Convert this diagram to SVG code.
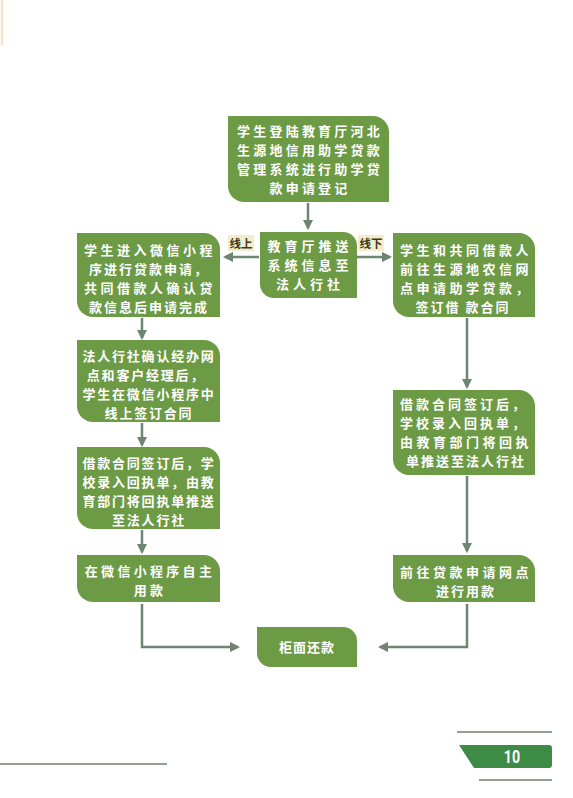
<svg xmlns="http://www.w3.org/2000/svg" width="573" height="798" viewBox="0 0 573 798">
<defs>
<linearGradient id="topg" x1="0" y1="0" x2="1" y2="0">
<stop offset="0" stop-color="#f2e0b4"/>
<stop offset="0.5" stop-color="#c4c596"/>
<stop offset="1" stop-color="#4d7d48"/>
</linearGradient>
<marker id="ah" viewBox="0 0 10 10" refX="8" refY="5" markerWidth="4.2" markerHeight="4.2" orient="auto" markerUnits="strokeWidth">
<path d="M0,0 L10,5 L0,10 z" fill="#6e8571"/>
</marker>
</defs>
<style>
.box{fill:#6c9a45}
.t{fill:#ffffff;font-family:"Noto Sans CJK SC","Noto Sans",sans-serif;font-weight:bold;font-size:13px;text-anchor:middle}
.c{fill:none;stroke:#6e8571;stroke-width:2.5}
.lbl{fill:#f4edcc}
.lt{fill:#3b3a20;font-family:"Noto Sans CJK SC","Noto Sans",sans-serif;font-weight:bold;font-size:11.5px;text-anchor:middle}
.rule{stroke:#6f7f72;stroke-width:1.5}
</style>
<rect width="573" height="798" fill="#ffffff"/>
<line x1="2" y1="0" x2="2" y2="45" stroke="#f3e6c8" stroke-width="2.5"/>
<line x1="78" y1="51" x2="503" y2="51" stroke="url(#topg)" stroke-width="3.5" stroke-linecap="round"/>

<g id="connectors">
<line class="c" x1="308" y1="203" x2="308" y2="228" marker-end="url(#ah)"/>
<line class="c" x1="259" y1="257" x2="225" y2="257" marker-end="url(#ah)"/>
<line class="c" x1="357" y1="257" x2="390" y2="257" marker-end="url(#ah)"/>
<line class="c" x1="142" y1="318" x2="142" y2="338" marker-end="url(#ah)"/>
<line class="c" x1="142" y1="423" x2="142" y2="445" marker-end="url(#ah)"/>
<line class="c" x1="142" y1="530" x2="142" y2="552" marker-end="url(#ah)"/>
<line class="c" x1="467" y1="318" x2="467" y2="387" marker-end="url(#ah)"/>
<line class="c" x1="467" y1="476" x2="467" y2="551" marker-end="url(#ah)"/>
<polyline class="c" points="142,604 142,647 238,647" marker-end="url(#ah)"/>
<polyline class="c" points="467,604 467,647 380,647" marker-end="url(#ah)"/>
<g id="label-online"><rect class="lbl" x="228" y="235" width="26" height="16"/><text class="lt" x="241" y="247.5">线上</text></g>
<g id="label-offline"><rect class="lbl" x="358" y="235" width="26" height="16"/><text class="lt" x="371" y="247.5">线下</text></g>
</g>

<g id="n-top">
<path class="box" d="M228,116 H373 A16,16 0 0 1 389,132 V202 H244 A16,16 0 0 1 228,186 Z"/>
<text class="t" letter-spacing="3.2"><tspan x="310" y="136">学生登陆教育厅河北</tspan><tspan x="310" y="155">生源地信用助学贷款</tspan><tspan x="310" y="174">管理系统进行助学贷</tspan><tspan x="310" y="193">款申请登记</tspan></text>
</g>

<g id="n-push">
<path class="box" d="M260,232 H343 A14,14 0 0 1 357,246 V298 H274 A14,14 0 0 1 260,284 Z"/>
<text class="t" letter-spacing="4"><tspan x="310" y="251">教育厅推送</tspan><tspan x="310" y="270">系统信息至</tspan><tspan x="310" y="289">法人行社</tspan></text>
</g>

<g id="n-l1">
<path class="box" d="M77,233 H204 A16,16 0 0 1 220,249 V317 H93 A16,16 0 0 1 77,301 Z"/>
<text class="t"><tspan letter-spacing="3.5" x="150" y="255">学生进入微信小程</tspan><tspan letter-spacing="2" x="149" y="274">序进行贷款申请，</tspan><tspan letter-spacing="3.5" x="150" y="293">共同借款人确认贷</tspan><tspan letter-spacing="2" x="149" y="312">款信息后申请完成</tspan></text>
</g>

<g id="n-r1">
<path class="box" d="M393,233 H519 A16,16 0 0 1 535,249 V317 H409 A16,16 0 0 1 393,301 Z"/>
<text class="t"><tspan letter-spacing="3.5" x="466" y="255">学生和共同借款人</tspan><tspan letter-spacing="3.5" x="466" y="274">前往生源地农信网</tspan><tspan letter-spacing="3.5" x="466" y="293">点申请助学贷款，</tspan><tspan letter-spacing="2" x="463" y="312">签订借 款合同</tspan></text>
</g>

<g id="n-l2">
<path class="box" d="M77,340 H204 A16,16 0 0 1 220,356 V422 H93 A16,16 0 0 1 77,406 Z"/>
<text class="t" letter-spacing="1.8"><tspan x="149" y="361">法人行社确认经办网</tspan><tspan x="146" y="380">点和客户经理后，</tspan><tspan x="149" y="399">学生在微信小程序中</tspan><tspan x="149" y="418">线上签订合同</tspan></text>
</g>

<g id="n-l3">
<path class="box" d="M77,447 H204 A16,16 0 0 1 220,463 V529 H93 A16,16 0 0 1 77,513 Z"/>
<text class="t" letter-spacing="1.8"><tspan x="149" y="468">借款合同签订后，学</tspan><tspan x="149" y="487">校录入回执单，由教</tspan><tspan x="149" y="506">育部门将回执单推送</tspan><tspan x="149" y="525">至法人行社</tspan></text>
</g>

<g id="n-r2">
<path class="box" d="M393,390 H519 A16,16 0 0 1 535,406 V475 H409 A16,16 0 0 1 393,459 Z"/>
<text class="t"><tspan letter-spacing="3" x="464" y="409">借款合同签订后，</tspan><tspan letter-spacing="3" x="464" y="428">学校录入回执单，</tspan><tspan letter-spacing="3.5" x="466" y="447">由教育部门将回执</tspan><tspan letter-spacing="2" x="466" y="466">单推送至法人行社</tspan></text>
</g>

<g id="n-l4">
<path class="box" d="M77,555 H204 A16,16 0 0 1 220,571 V602 H93 A16,16 0 0 1 77,586 Z"/>
<text class="t" letter-spacing="3.3"><tspan x="150" y="576">在微信小程序自主</tspan><tspan x="150" y="595">用款</tspan></text>
</g>

<g id="n-r4">
<path class="box" d="M393,555 H519 A16,16 0 0 1 535,571 V602 H409 A16,16 0 0 1 393,586 Z"/>
<text class="t"><tspan letter-spacing="3.5" x="466" y="577">前往贷款申请网点</tspan><tspan letter-spacing="2" x="466" y="596">进行用款</tspan></text>
</g>

<g id="n-repay">
<path class="box" d="M257,627 H343 A14,14 0 0 1 357,641 V667 H271 A14,14 0 0 1 257,653 Z"/>
<text class="t" font-size="14" letter-spacing="1" x="307" y="652">柜面还款</text>
</g>

<line class="rule" x1="0" y1="764" x2="167" y2="764"/>
<line class="rule" x1="457" y1="732" x2="552" y2="732"/>
<line class="rule" x1="479" y1="780" x2="552" y2="780"/>
<g id="page-tab">
<path d="M459,745 H549 A3,3 0 0 1 552,748 V765 A3,3 0 0 1 549,768 H474 Z" fill="#3d8b45"/>
<text x="512" y="763" fill="#ffffff" font-family="Roboto,'Liberation Sans',sans-serif" font-weight="bold" font-size="19" text-anchor="middle" transform="translate(512 0) scale(0.75 1) translate(-512 0)">10</text>
</g>
</svg>
